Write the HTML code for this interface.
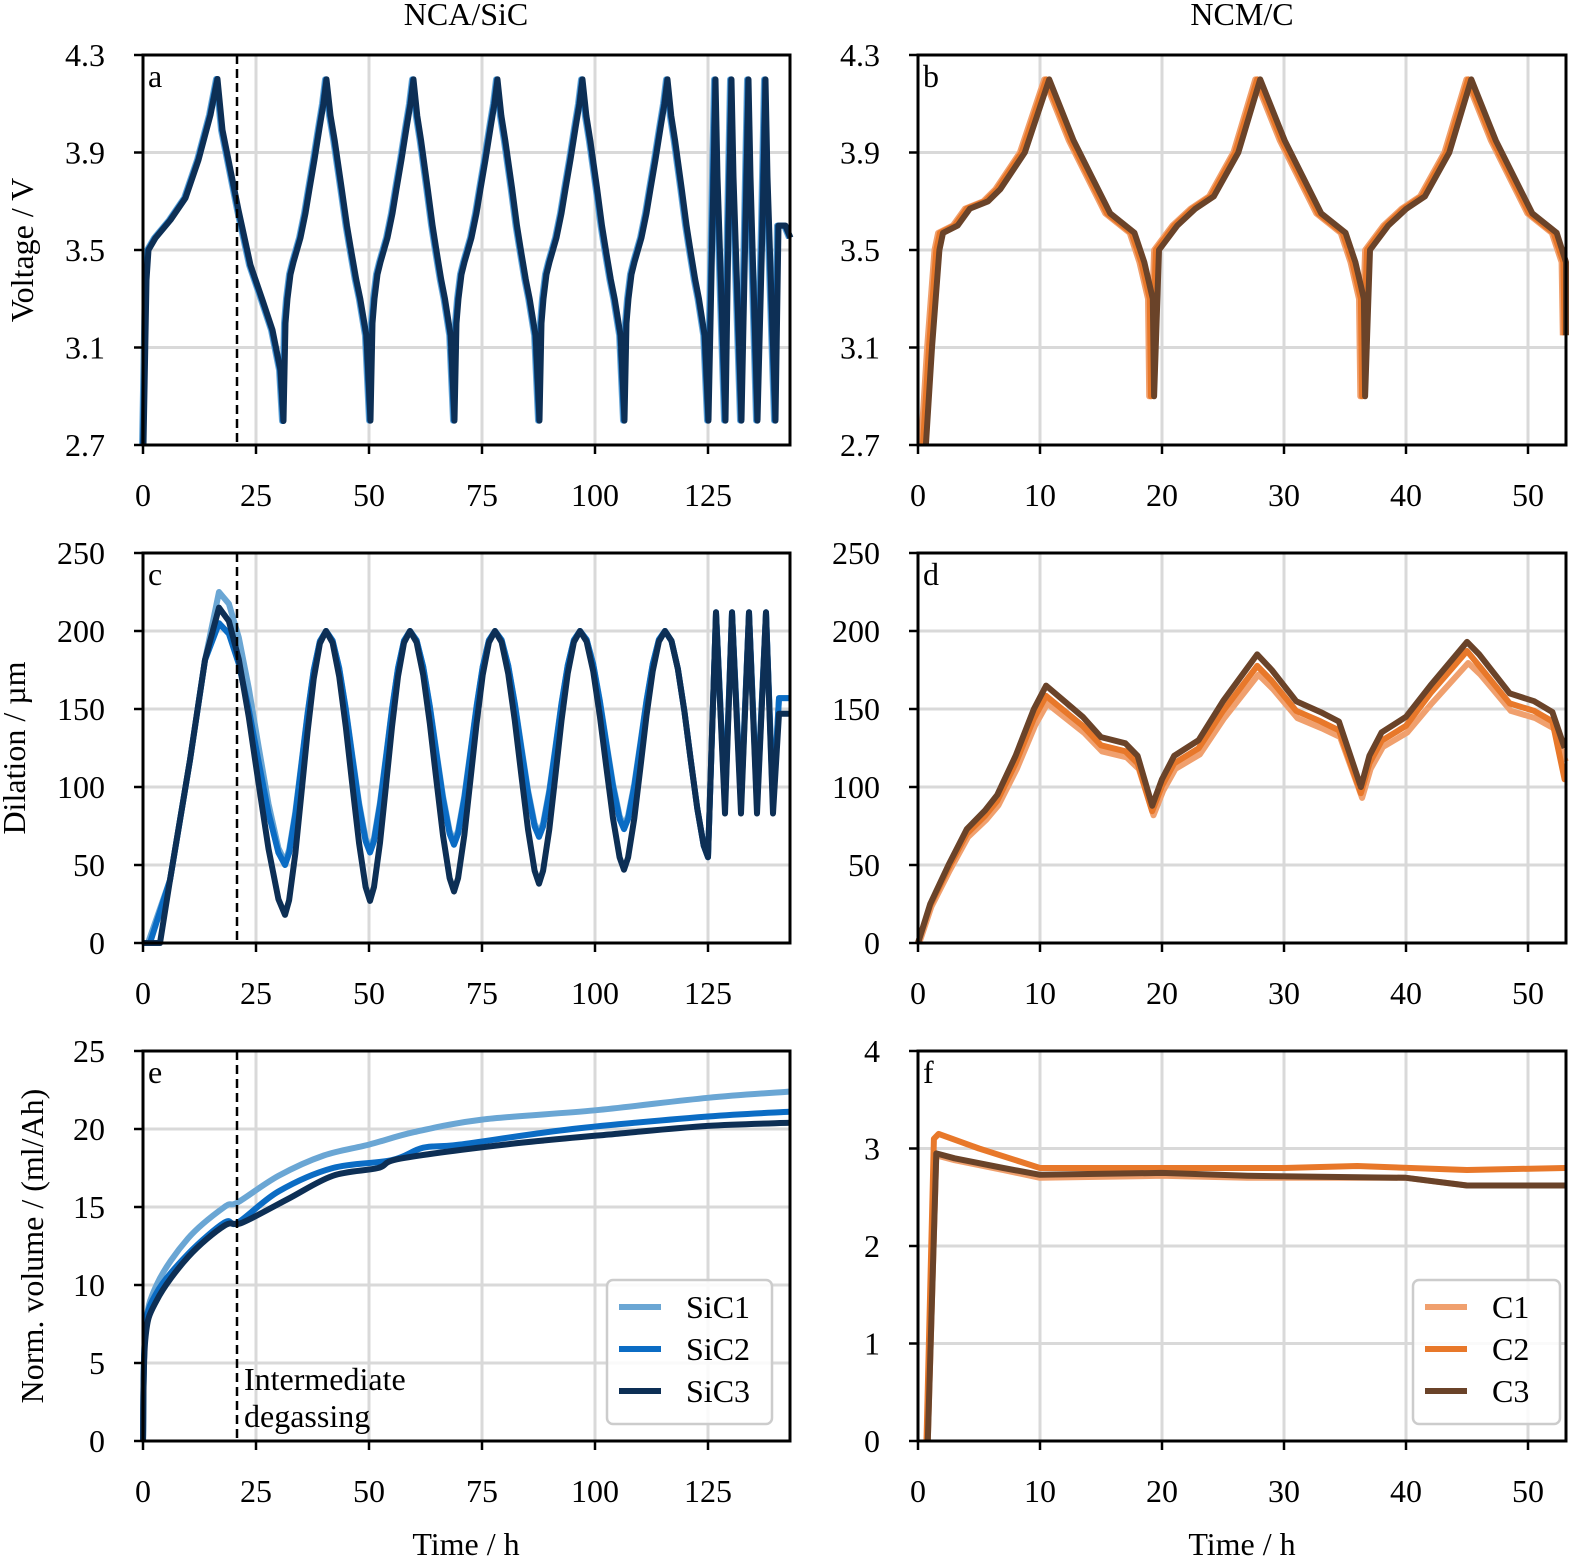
<!DOCTYPE html>
<html><head><meta charset="utf-8"><style>
html,body{margin:0;padding:0;background:#fff}
svg{display:block}
text{font-family:"Liberation Serif",serif;font-size:32px;fill:#000}
</style></head><body>
<svg id="s" width="1572" height="1560" xmlns="http://www.w3.org/2000/svg">
<g id="grid"></g><g id="data"></g><g id="frame"></g>
</svg>
<script>
const NS="http://www.w3.org/2000/svg";
const G=document.getElementById('grid'),D=document.getElementById('data'),F=document.getElementById('frame');
function el(p,tag,a,txt){const e=document.createElementNS(NS,tag);for(const k in a)e.setAttribute(k,a[k]);if(txt!==undefined)e.textContent=txt;p.appendChild(e);return e;}
function line(p,x1,y1,x2,y2,st,w,da){const a={x1,y1,x2,y2,stroke:st,'stroke-width':w};if(da)a['stroke-dasharray']=da;el(p,'line',a);}
function poly(pts,col,w){el(D,'polyline',{points:pts.map(p=>p[0].toFixed(1)+','+p[1].toFixed(1)).join(' '),fill:'none',stroke:col,'stroke-width':w||6,'stroke-linejoin':'round'});}
function smooth(pts,col,w){
  let d='M'+pts[0][0].toFixed(1)+','+pts[0][1].toFixed(1);
  for(let i=0;i<pts.length-1;i++){
    const p0=pts[Math.max(0,i-1)],p1=pts[i],p2=pts[i+1],p3=pts[Math.min(pts.length-1,i+2)];
    const c1=[p1[0]+(p2[0]-p0[0])/6,p1[1]+(p2[1]-p0[1])/6],c2=[p2[0]-(p3[0]-p1[0])/6,p2[1]-(p3[1]-p1[1])/6];
    d+=' C'+c1.map(v=>v.toFixed(1))+' '+c2.map(v=>v.toFixed(1))+' '+p2.map(v=>v.toFixed(1));
  }
  el(D,'path',{d,fill:'none',stroke:col,'stroke-width':w||6,'stroke-linejoin':'round'});
}
const L={x0:143,x1:790,sx:565/125},R={x0:918,x1:1566,sx:12.2};
const rows=[[55,445],[553,943],[1051,1441]];
function axes(P,r,xt,yt,ymap,letter){
  const [yt0,yb]=rows[r];
  xt.forEach(t=>{const x=P.x0+t*P.sx;if(t>0)line(G,x,yt0,x,yb,'#d9d9d9',3);});
  yt.forEach(v=>{const y=ymap(v.v);line(G,P.x0,y,P.x1,y,'#d9d9d9',3);});
  el(F,'rect',{x:P.x0,y:yt0,width:P.x1-P.x0,height:yb-yt0,fill:'none',stroke:'#000','stroke-width':3});
  xt.forEach(t=>{const x=P.x0+t*P.sx;line(F,x,yb,x,yb+9,'#000',2.5);el(F,'text',{x:x,y:yb+61,'text-anchor':'middle'},String(t));});
  yt.forEach(v=>{const y=ymap(v.v);line(F,P.x0-9,y,P.x0,y,'#000',2.5);el(F,'text',{x:P.x0-38,y:y+11,'text-anchor':'end'},v.l);});
  el(F,'text',{x:P.x0+5,y:yt0+32},letter);
}
const vy=v=>445-(v-2.7)/1.6*390, dy=d=>943-d*1.56, ey=v=>1441-v*15.6, fy=v=>1441-v*97.5;
const xl=[0,25,50,75,100,125], xr=[0,10,20,30,40,50];
const vt=[2.7,3.1,3.5,3.9,4.3].map(v=>({v,l:v.toFixed(1)}));
const dt=[0,50,100,150,200,250].map(v=>({v,l:String(v)}));
axes(L,0,xl,vt,vy,'a');axes(R,0,xr,vt,vy,'b');
axes(L,1,xl,dt,dy,'c');axes(R,1,xr,dt,dy,'d');
axes(L,2,xl,[0,5,10,15,20,25].map(v=>({v,l:String(v)})),ey,'e');
axes(R,2,xr,[0,1,2,3,4].map(v=>({v,l:String(v)})),fy,'f');
el(F,'text',{x:466,y:25,'text-anchor':'middle'},'NCA/SiC');
el(F,'text',{x:1242,y:25,'text-anchor':'middle'},'NCM/C');
el(F,'text',{x:466,y:1555,'text-anchor':'middle'},'Time / h');
el(F,'text',{x:1242,y:1555,'text-anchor':'middle'},'Time / h');
el(F,'text',{x:33,y:250,'text-anchor':'middle',transform:'rotate(-90 33 250)'},'Voltage / V');
el(F,'text',{x:25,y:748,'text-anchor':'middle',transform:'rotate(-90 25 748)'},'Dilation / µm');
el(F,'text',{x:43,y:1246,'text-anchor':'middle',transform:'rotate(-90 43 1246)'},'Norm. volume / (ml/Ah)');
rows.forEach(r=>line(F,237,r[0],237,r[1],'#000',2.5,'9,5'));
el(F,'text',{x:244,y:1390},'Intermediate');el(F,'text',{x:244,y:1427},'degassing');
const cl=['#6aa6d4','#0b6cc4','#0d2f55'];
function buildA(off){
  const pts=[[143,445],[146,280],[148,250],[155,238],[170,220],[185,198],[198,160],[210,115],[217,79]];
  pts.push([222,130],[228,160],[238,210],[250,265],[262,300],[272,330],[280,370],[283,421]);
  const mins=[283,370,454,539,624,708];
  for(let i=0;i<5;i++){const m=mins[i],p=m+43,n=mins[i+1];
    [[2,3.2],[4,3.3],[7,3.4],[10,3.45],[17,3.55],[22,3.65],[26,3.75],[31,3.87],[36,4.0],[40,4.1],[43,4.2]].forEach(a=>pts.push([m+a[0],vy(a[1])]));
    const dd=n-p;
    [[4,4.05],[8,3.95],[15,3.75],[20,3.6],[24,3.5],[29,3.38],[33,3.3],[39,3.15],[43,2.8]].forEach(a=>pts.push([p+a[0]*dd/43,vy(a[1])]));
  }
  const fp=[715,731,748,765],fm=[725,741,757,775];
  for(let i=0;i<4;i++){pts.push([fp[i]-3,vy(3.6)],[fp[i],vy(4.2)],[fp[i]+2,vy(3.8)],[fm[i],vy(2.8)]);}
  pts.push([778,vy(3.6)],[785,vy(3.6)],[790,vy(3.55)]);
  return pts.map(p=>[p[0]+off,p[1]]);
}
poly(buildA(-1),cl[0]);poly(buildA(0),cl[1]);poly(buildA(0.5),cl[2]);
const cr=['#f0a06e','#e8782a','#6a4329'];
function buildB(sh){
  const X=t=>918+(t+sh)*12.2;
  const a=[[0.4,2.7],[0.9,3.1],[1.5,3.5],[1.8,3.57],[3,3.6],[4,3.67],[5.5,3.7],[6.5,3.75],[8.5,3.9],[10.5,4.2]];
  const dis=[[12.5,3.95],[14,3.8],[15.5,3.65],[17.5,3.57],[18.3,3.45],[19,3.3],[19.1,2.9]];
  const ch=[[19.5,3.5],[21,3.6],[22.5,3.67],[24,3.72],[26,3.9],[27.8,4.2]];
  let pts=[...a,...dis];
  const P=17.3;
  ch.forEach(c=>pts.push([c[0],c[1]]));
  dis.forEach(c=>pts.push([c[0]+P,c[1]]));
  ch.forEach(c=>pts.push([c[0]+P,c[1]]));
  dis.slice(0,5).forEach(c=>pts.push([c[0]+P*2,c[1]]));
  pts.push([53,3.15]);
  return pts.map(p=>[Math.min(X(p[0]),1566),vy(p[1])]);
}
poly(buildB(-0.15),cr[0]);poly(buildB(0),cr[1]);poly(buildB(0.25),cr[2]);
function buildC(pk1,minsV,fastMin,endV,st){
  const pts=[[143,943],[st,943],[170,880],[190,760],[205,660],[219,943-pk1*1.56]];
  const mins=[285,370,454,539,624,708],pks=[326,410,495,580,665];
  let prev=219;
  for(let i=0;i<6;i++){
    const m=mins[i],dv=minsV[i];
    const p0=prev,pv=(i==0?pk1:200);
    [0.15,0.3,0.45,0.6,0.75,0.9].forEach(f=>{const s=(1+Math.cos(Math.PI*f))/2;pts.push([p0+(m-p0)*f,dy(dv+(pv-dv)*Math.pow(s,0.8))]);});
    pts.push([m,dy(dv)]);
    if(i<5){const p=pks[i];
      [0.1,0.25,0.4,0.55,0.7,0.85].forEach(f=>{const s=(1-Math.cos(Math.PI*f))/2;pts.push([m+(p-m)*f,dy(dv+(200-dv)*Math.pow(s,0.8))]);});
      pts.push([p,dy(200)]);prev=p;}
  }
  const fp=[716,732,749,766],fm=[725,741,757,773];
  for(let i=0;i<4;i++){pts.push([fp[i],dy(212)],[fm[i],dy(fastMin)]);}
  pts.push([779,dy(endV)],[790,dy(endV)]);
  return pts;
}
poly(buildC(225,[52,60,65,70,75,55],90,157,148),cl[0]);
poly(buildC(205,[50,58,63,68,73,55],88,157,150),cl[1]);
poly(buildC(215,[18,27,33,38,47,55],83,147,160),cl[2]);
const d3=[[0,0],[1,25],[2.5,50],[4,73],[5.5,85],[6.5,95],[8,120],[9.5,150],[10.5,165],[12,155],[13.5,145],[15,132],[17,128],[18,120],[19.2,88],[20,105],[21,120],[23,130],[25,155],[27.8,185],[29,175],[31,155],[33,148],[34.5,142],[36.3,100],[37,120],[38,135],[40,145],[42,165],[45,193],[46,185],[47,175],[48.5,160],[50.5,155],[52,148],[53,125]];
const X=t=>Math.min(918+t*12.2,1566);
poly(d3.map(p=>[X(p[0]+0.1),dy(p[1]*(p[0]<1?1:0.93))]),cr[0]);
poly(d3.map(p=>[X(p[0]),dy(p[0]>52?105:p[1]*(p[0]<1?1:(p[0]>40&&p[0]<46?0.97:0.96)))]).concat([[1566,dy(105)]]),cr[1]);
poly(d3.map(p=>[X(p[0]),dy(p[1])]),cr[2]);
const XL=t=>143+t*L.sx;
const e1=[[0,0],[0.5,7],[3,10],[10,13],[18,15],[21,15.3],[30,17],[40,18.3],[50,19],[60,19.8],[75,20.6],[100,21.2],[125,22],[143,22.4]];
const e2=[[0,0],[0.5,7],[3,9.5],[10,12],[18,14],[21,14],[30,16],[42,17.5],[55,18],[62,18.8],[70,19],[95,20],[125,20.8],[143,21.1]];
const e3=[[0,0],[0.5,6.5],[3,9],[10,11.8],[18,13.8],[22,14],[32,15.5],[42,17],[52,17.5],[57,18.1],[80,19],[105,19.7],[125,20.2],[143,20.4]];
smooth(e1.map(p=>[XL(p[0]),ey(p[1])]),cl[0]);
smooth(e2.map(p=>[XL(p[0]),ey(p[1])]),cl[1]);
smooth(e3.map(p=>[XL(p[0]),ey(p[1])]),cl[2]);
const f2=[[0.7,0],[1.3,3.1],[1.7,3.15],[5,3.0],[10,2.8],[20,2.8],[30,2.8],[36,2.82],[45,2.78],[53,2.8]];
const f3=[[0.8,0],[1.5,2.95],[3,2.9],[7,2.8],[10,2.73],[20,2.75],[27,2.72],[40,2.7],[45,2.62],[53,2.62]];
const f1=[[0.8,0],[1.5,2.93],[3,2.88],[7,2.78],[10,2.7],[20,2.72],[27,2.7],[40,2.7],[45,2.62],[53,2.62]];
poly(f1.map(p=>[X(p[0]),fy(p[1])]),cr[0]);
poly(f2.map(p=>[X(p[0]),fy(p[1])]),cr[1]);
poly(f3.map(p=>[X(p[0]),fy(p[1])]),cr[2]);
function legend(x,y,w,h,lx,names,cols){
  el(F,'rect',{x,y,width:w,height:h,rx:6,fill:'#fff','fill-opacity':0.85,stroke:'#ccc','stroke-width':2.5});
  names.forEach((n,i)=>{const yy=y+27+i*42;line(F,lx,yy,lx+42,yy,cols[i],6);el(F,'text',{x:lx+67,y:yy+11},n);});
}
legend(607,1280,165,144,619,['SiC1','SiC2','SiC3'],cl);
legend(1413,1280,147,144,1425,['C1','C2','C3'],cr);
</script>
</body></html>
